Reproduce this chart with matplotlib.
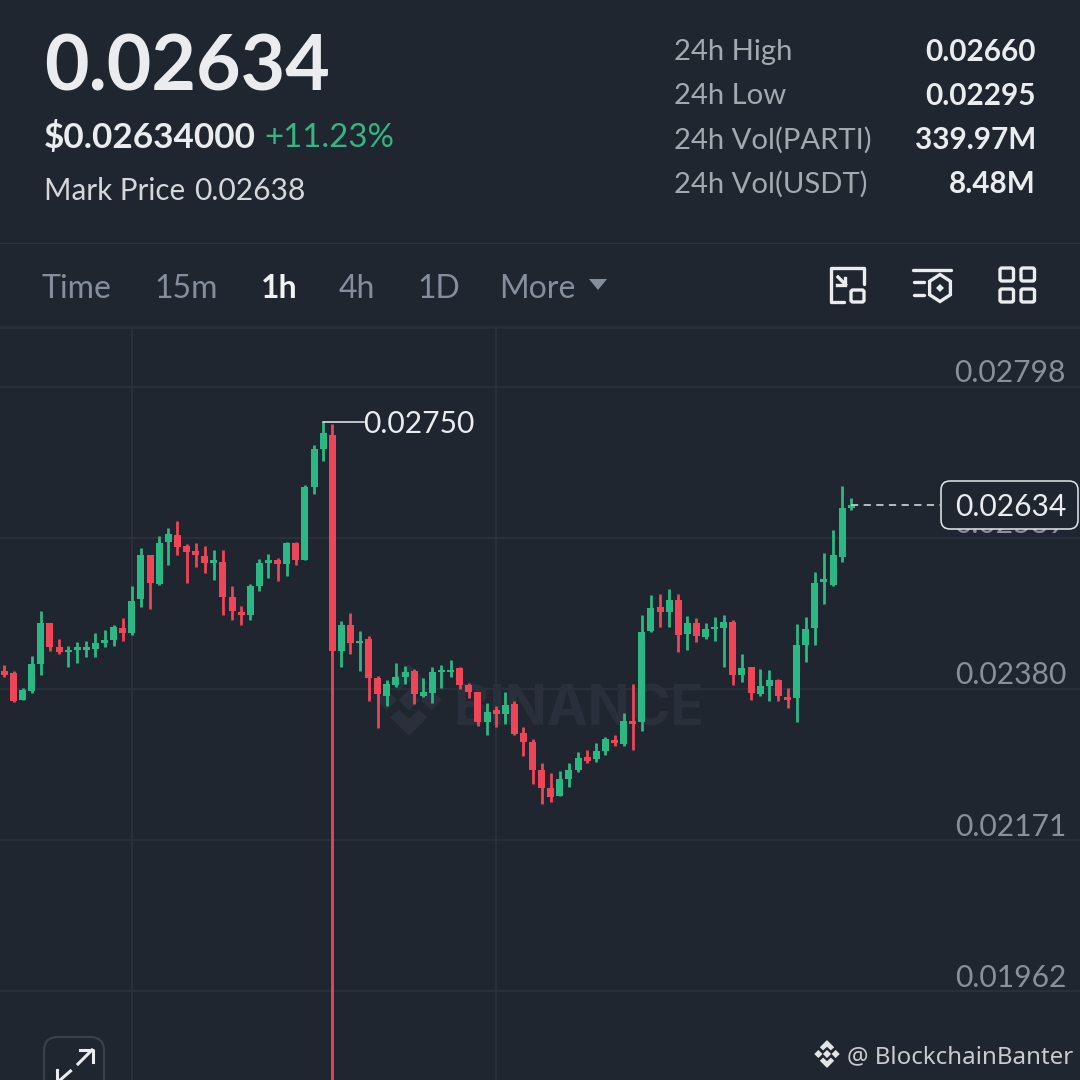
import numpy as np
import matplotlib
matplotlib.use('Agg')
import matplotlib.pyplot as plt
from matplotlib.patches import FancyBboxPatch, Polygon

# Prices in units of 0.00001 (hourly candles)
opens = [2405,2402,2365,2377,2415,2471,2438,2431,2434,2434,2436,2444,2448,2464,2457,2505,2565,2525,2583,2593,
         2578,2571,2564,2555,2556,2507,2487,2482,2523,2554,2558,2553,2582,2558,2659,2712,2732,2433,2469,2443,
         2449,2395,2371,2386,2397,2405,2371,2374,2403,2403,2409,2386,2376,2334,2351,2346,2359,2319,2306,2268,
         2243,2232,2255,2268,2286,2283,2294,2310,2304,2336,2335,2460,2494,2487,2503,2456,2471,2452,2463,2464,
         2473,2399,2410,2373,2384,2392,2369,2367,2441,2464,2528,2524,2562,2631]
highs = [2413,2405,2382,2425,2488,2471,2449,2439,2445,2447,2457,2462,2468,2478,2522,2575,2566,2592,2603,2613,
         2580,2582,2578,2572,2572,2522,2495,2525,2560,2567,2561,2584,2583,2663,2718,2750,2747,2474,2485,2460,
         2453,2398,2393,2416,2412,2408,2395,2410,2413,2420,2411,2388,2376,2360,2357,2376,2363,2327,2311,2277,
         2264,2266,2277,2293,2295,2305,2313,2316,2347,2387,2482,2510,2511,2518,2511,2481,2478,2472,2480,2483,
         2476,2429,2411,2407,2406,2394,2381,2470,2479,2542,2568,2600,2661,2645]
lows = [2396,2362,2365,2375,2400,2433,2428,2410,2416,2424,2424,2438,2440,2447,2455,2494,2491,2524,2552,2566,
        2527,2549,2540,2531,2482,2475,2469,2475,2515,2534,2530,2536,2552,2558,2650,2695,1800,2411,2429,2405,
        2364,2326,2357,2383,2387,2359,2369,2361,2382,2396,2380,2367,2329,2317,2328,2332,2317,2287,2248,2221,
        2223,2232,2245,2265,2277,2279,2288,2301,2301,2295,2322,2459,2466,2466,2431,2434,2445,2449,2447,2410,
        2386,2390,2365,2371,2363,2364,2354,2335,2418,2441,2498,2523,2556,2628]
closes = [2400,2364,2379,2414,2471,2438,2431,2434,2438,2438,2444,2448,2466,2458,2502,2565,2527,2582,2595,2576,
          2570,2565,2555,2559,2508,2488,2483,2523,2554,2558,2553,2582,2559,2659,2712,2734,2432,2469,2443,2447,
          2395,2373,2387,2397,2404,2373,2376,2403,2406,2406,2385,2376,2334,2348,2345,2358,2318,2306,2268,2243,
          2231,2255,2268,2284,2280,2294,2311,2305,2336,2332,2459,2492,2487,2503,2455,2471,2453,2463,2466,2473,
          2399,2409,2374,2384,2392,2370,2365,2441,2463,2527,2532,2566,2631,2634]

axis_ticks = [2798, 2589, 2380, 2171, 1962]
axis_labels = ['0.02798', '0.02589', '0.02380', '0.02171', '0.01962']
time_grid = [14, 54]
last_price = 2634
peak_index = 35
peak_price = 2750
peak_label = '0.02750'

header_left = ['0.02634', '$0.02634000', '+11.23%', 'Mark Price', '0.02638']
stat_names = ['24h High', '24h Low', '24h Vol(PARTI)', '24h Vol(USDT)']
stat_values = ['0.02660', '0.02295', '339.97M', '8.48M']
intervals = ['Time', '15m', '1h', '4h', '1D', 'More']

BG = '#1F2630'
GRID = '#2D3440'
GREEN = '#2CB884'
RED = '#EF4559'
WHITE = '#EAECEF'
GRAY = '#848E9C'
AXISGRAY = '#8A8F98'
WATER = '#2A303B'
FONT = 'Lato'
plt.rcParams['font.family'] = [FONT, 'DejaVu Sans']

fig = plt.figure(figsize=(10.8, 10.8), dpi=100, facecolor=BG)

PX_I = 9.106
X0 = 4.4
PX_P = 1.384


def logo(axes, cx, cy, s, color, zorder=2):
    """Binance style mark: centre diamond, two side diamonds, top and bottom chevrons."""
    d = 0.17 * s
    for dx in (0, -0.36 * s, 0.36 * s):
        axes.add_patch(Polygon([[cx + dx, cy - d], [cx + dx + d, cy], [cx + dx, cy + d], [cx + dx - d, cy]],
                               closed=True, color=color, lw=0, zorder=zorder))
    for sg in (-1, 1):
        pts = [[cx, cy + sg * 0.30 * s], [cx + 0.16 * s, cy + sg * 0.15 * s], [cx + 0.30 * s, cy + sg * 0.28 * s],
               [cx, cy + sg * 0.58 * s], [cx - 0.30 * s, cy + sg * 0.28 * s], [cx - 0.16 * s, cy + sg * 0.15 * s]]
        axes.add_patch(Polygon(pts, closed=True, color=color, lw=0, zorder=zorder))


# watermark logo, behind the chart
wm = fig.add_axes([0, 0, 1, 1], zorder=-1)
wm.set_xlim(0, 1080)
wm.set_ylim(1080, 0)
wm.axis('off')
logo(wm, 409, 700, 62, WATER)

# --- chart axes, occupying y = 328..1080 px of the picture
ax = fig.add_axes([0, 0, 1, (1080 - 328) / 1080], zorder=0)
ax.patch.set_alpha(0)
ax.set_xlim((0 - X0) / PX_I, (1080 - X0) / PX_I)
ax.set_ylim(2380 - (1080 - 689) * PX_P, 2380 + (689 - 328) * PX_P)
ax.set_xticks(time_grid)
ax.set_yticks(axis_ticks)
ax.tick_params(length=0, labelbottom=False, labelleft=False)
ax.grid(True, color=GRID, linewidth=1.1, zorder=0)
ax.set_axisbelow(True)
for s in ax.spines.values():
    s.set_visible(False)

ax.annotate('BINANCE', xy=(0, 2380), xycoords=('axes fraction', 'data'), xytext=(453, -37),
            textcoords='offset pixels', fontsize=39.6, fontweight='bold', family='Inter', color=WATER,
            ha='left', va='baseline', zorder=1)

o = np.array(opens, float)
c = np.array(closes, float)
h = np.array(highs, float)
l = np.array(lows, float)
idx = np.arange(len(o))
colors = [GREEN if ci >= oi else RED for oi, ci in zip(o, c)]
ax.vlines(idx, l, h, colors=colors, linewidth=2.0, zorder=3)
ax.bar(idx, np.maximum(np.abs(c - o), 1.5), bottom=np.minimum(o, c), width=7.0 / PX_I,
       color=colors, linewidth=0, zorder=3)

for val, lab in zip(axis_ticks, axis_labels):
    ax.annotate(lab, xy=(1, val), xycoords=('axes fraction', 'data'), xytext=(-14, 16),
                textcoords='offset pixels', ha='right', va='center_baseline', fontsize=21.6,
                color=AXISGRAY, zorder=4)

peak_line_end = peak_index + 41 / PX_I
ax.plot([peak_index, peak_line_end], [peak_price, peak_price], color=WHITE, lw=1.1, zorder=5)
ax.annotate(peak_label, xy=(peak_line_end, peak_price), xytext=(-1, 0), textcoords='offset pixels',
            ha='left', va='center_baseline', fontsize=21.6, color=WHITE, zorder=5)

ax.plot([idx[-1], (940 - X0) / PX_I], [last_price, last_price], color='#C4C7CC', lw=1.3,
        dashes=(4, 3), zorder=5)

# --- overlay in picture pixels for the app chrome
ov = fig.add_axes([0, 0, 1, 1], zorder=5)
ov.set_xlim(0, 1080)
ov.set_ylim(1080, 0)
ov.axis('off')
ov.patch.set_alpha(0)


def txt(x, y, s, size, color, weight='normal', ha='left'):
    return ov.text(x, y, s, fontsize=size * 0.72, color=color, fontweight=weight, ha=ha, va='center_baseline')


txt(44, 62, header_left[0], 77, '#EAECF0', 'bold')
txt(44, 135, header_left[1], 35, WHITE, 'bold')
txt(264, 135, header_left[2], 33, '#35B583')
txt(44, 189, header_left[3], 29.5, '#D5D7DB')
txt(194.5, 189, header_left[4], 30, '#D5D7DB')

for y, n, v in zip([49.5, 93.5, 137.5, 181.5], stat_names, stat_values):
    txt(674, y, n, 29.2, '#A4A8AF')
    txt(1036, y, v, 29.7, WHITE, 'bold', ha='right')

xs = [42, 154, 261, 339, 417, 499]
for x, s in zip(xs, intervals):
    bold = s == '1h'
    txt(x, 286.5, s, 32, '#F2F3F5' if bold else GRAY, 'bold' if bold else 'normal')
ov.add_patch(Polygon([[589, 279], [607, 279], [598, 290]], closed=True, color=GRAY, lw=0))

ov.plot([0, 1080], [242.5, 242.5], color=GRID, lw=1)
ov.plot([0, 1080], [327, 327], color=WATER, lw=2)

# toolbar icons
ICON = '#EAECEF'
ilw = 2.4
ov.plot([844, 831, 831, 864, 864], [302, 302, 268, 268, 284], color=ICON, lw=ilw, solid_capstyle='round',
        solid_joinstyle='round')
ov.add_patch(FancyBboxPatch((851, 290), 13, 12, boxstyle='round,pad=0,rounding_size=2', fill=False,
                            ec=ICON, lw=ilw))
ov.plot([838, 845.5], [277, 284.5], color=ICON, lw=ilw)
ov.plot([837, 845, 845], [285, 285, 278], color=ICON, lw=ilw, solid_joinstyle='miter')

ov.plot([913, 951], [269.5, 269.5], color=ICON, lw=ilw, solid_capstyle='round')
ov.plot([914, 924], [282, 282], color=ICON, lw=ilw, solid_capstyle='round')
ov.plot([914, 924], [295, 295], color=ICON, lw=ilw, solid_capstyle='round')
ang = np.deg2rad(np.arange(30, 390, 60))
ov.add_patch(Polygon(np.c_[940 + 12 * np.cos(ang), 288 + 13.5 * np.sin(ang)], closed=True, fill=False,
                     ec=ICON, lw=ilw))
ov.add_patch(Polygon([[940, 284], [944, 288], [940, 292], [936, 288]], closed=True, color=ICON, lw=0))

for x0 in (1000, 1021):
    for y0 in (268, 289):
        ov.add_patch(FancyBboxPatch((x0, y0), 13.5, 13, boxstyle='round,pad=0,rounding_size=2', fill=False,
                                    ec=ICON, lw=ilw))

# last price tag
ov.add_patch(FancyBboxPatch((941, 481), 137, 48, boxstyle='round,pad=0,rounding_size=9', fc=BG,
                            ec='#E6E8EB', lw=1.1, zorder=6))
ov.text(1066, 505, '0.02634', fontsize=21.6, color=WHITE, ha='right', va='center_baseline', zorder=7)

# expand button
ov.add_patch(FancyBboxPatch((44, 1037), 60, 70, boxstyle='round,pad=0,rounding_size=14', fill=False,
                            ec='#3A414C', lw=1.6))
ov.plot([78, 92], [1064, 1050], color=WHITE, lw=2.2)
ov.plot([80, 92.5, 92.5], [1050, 1050, 1062], color=WHITE, lw=2.2)
ov.plot([59, 70.5], [1081, 1071], color=WHITE, lw=2.2)
ov.plot([57, 57], [1070, 1080], color=WHITE, lw=2.2)

# attribution
logo(ov, 827, 1054, 24, '#E2E4E7', zorder=8)
ov.text(847, 1054, '@ BlockchainBanter', fontsize=17.3, color='#C9CBCF', family='Noto Sans', ha='left',
        va='center_baseline', zorder=8)

fig.savefig('out.png', dpi=100, facecolor=BG)
